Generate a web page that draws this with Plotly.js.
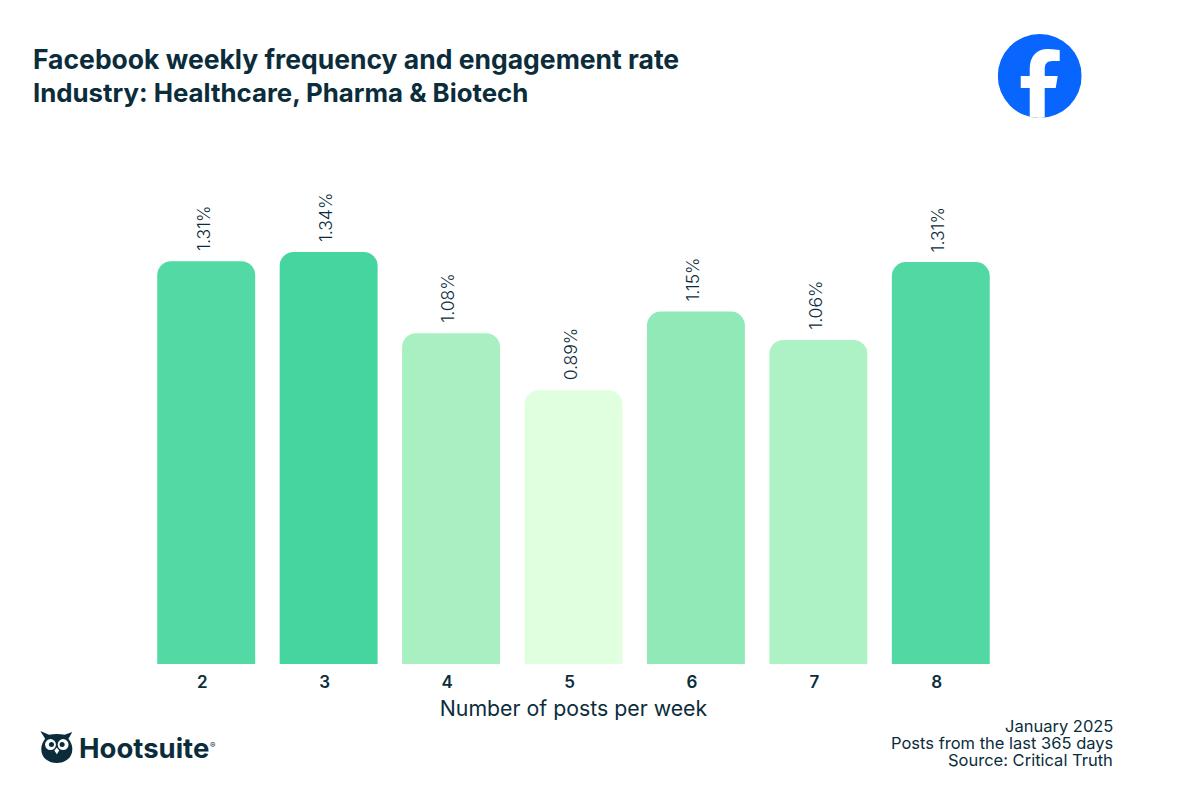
<!DOCTYPE html>
<html><head><meta charset="utf-8">
<script src="https://cdn.plot.ly/plotly-3.0.1.min.js"></script>
<style>html,body{margin:0;padding:0;background:#fff}#c{width:1200px;height:800px}</style></head>
<body><div id="c"></div>
<script>
const categories = ["2","3","4","5","6","7","8"];
const rates = [1.31,1.34,1.076,0.89,1.146,1.054,1.307];
const rateLabels = ["1.31%","1.34%","1.08%","0.89%","1.15%","1.06%","1.31%"];
const barColors = ["#53D9A3","#45D59E","#A8F0C1","#DFFFDF","#90E9B7","#ADF2C5","#52D9A3"];
const titleLines = ["Facebook weekly frequency and engagement rate","Industry: Healthcare, Pharma & Biotech"];
const titleSizes = [26.5,25.8];
const footerLines = ["January 2025","Posts from the last 365 days","Source: Critical Truth"];
const ink = "#0B2D3B";
const face = "Inter, 'Open Sans', sans-serif";
const W = 1200, H = 800;
const M = {l:144.75,r:197.75,t:172,b:136};
const PW = W-M.l-M.r, PH = H-M.t-M.b;
const px = v => (v-M.l)/PW, py = v => 1-(v-M.t)/PH;

const fbLogo = "data:image/svg+xml;utf8," + encodeURIComponent(
 '<svg xmlns="http://www.w3.org/2000/svg" viewBox="0 0 84 84"><defs><clipPath id="k"><circle cx="42" cy="42" r="42"/></clipPath></defs>'+
 '<circle cx="42" cy="42" r="42" fill="#0866FF"/>'+
 '<path clip-path="url(#k)" fill="#fff" d="M32 84V54H23V42H32V35C32 22 39 15 50 15C55 15 60 16 62 16V27H55C49 27 47 30 47 35V42H60L58 54H47V84Z"/></svg>');
const owlLogo = "data:image/svg+xml;utf8," + encodeURIComponent(
 '<svg xmlns="http://www.w3.org/2000/svg" viewBox="0 0 34 34">'+
 '<path fill="#0B2D3B" d="M0 1L9 5Q17 3 25 5L33 2L29 9Q33 14 33 20C33 29 25 34 17 34C9 34 1 29 1 20Q1 14 5 9Z"/>'+
 '<circle cx="10.5" cy="15" r="5.6" fill="#fff"/><circle cx="23.5" cy="15" r="5.6" fill="#fff"/>'+
 '<circle cx="11.5" cy="15" r="2.6" fill="#0B2D3B"/><circle cx="22.5" cy="15" r="2.6" fill="#0B2D3B"/>'+
 '<path fill="#fff" d="M14.5 21L17 18L19.5 21L17 25Z"/></svg>');

const annotations = [];
const paperNote = (text,x,y,xanchor,size) => annotations.push({text,xref:"paper",yref:"paper",x:px(x),y:py(y),xanchor,yanchor:"middle",showarrow:false,font:{family:face,size,color:ink}});
titleLines.forEach((t,i)=>paperNote("<b>"+t+"</b>",31,59+i*34,"left",titleSizes[i]));
footerLines.forEach((t,i)=>paperNote(t,1115,726+i*17,"right",16.5));
paperNote("<b>Hootsuite</b>",77,748,"left",27.5);
paperNote("®",208,745,"left",8);
rateLabels.forEach((label,i)=>annotations.push({text:label,xref:"x",yref:"y",x:i,y:rates[i],xanchor:"center",yanchor:"bottom",xshift:-3,yshift:8,textangle:-90,showarrow:false,font:{family:face,size:17.5,color:ink,weight:300}}));

Plotly.newPlot("c",[{
  type:"bar",x:categories,y:rates,
  marker:{color:barColors,line:{width:0}},hoverinfo:"x+y"
}],{
  width:W,height:H,paper_bgcolor:"#fff",plot_bgcolor:"#fff",showlegend:false,
  margin:M,
  bargap:0.2,barcornerradius:14,
  xaxis:{type:"category",range:[-0.5,6.5],showgrid:false,zeroline:false,showline:false,ticks:"outside",ticklen:3,tickcolor:"rgba(0,0,0,0)",ticklabelshift:-4,
    tickfont:{family:face,size:17,color:ink,weight:600},
    title:{text:"Number of posts per week",standoff:9,font:{family:face,size:21.3,color:ink}}},
  yaxis:{range:[0,1.6],visible:false,fixedrange:true},
  annotations,
  images:[
   {source:fbLogo,xref:"paper",yref:"paper",x:px(998),y:py(34),sizex:84/PW,sizey:84/PH,xanchor:"left",yanchor:"top",sizing:"stretch",layer:"above"},
   {source:owlLogo,xref:"paper",yref:"paper",x:px(40),y:py(730),sizex:33/PW,sizey:33/PH,xanchor:"left",yanchor:"top",sizing:"stretch",layer:"above"}
  ]
},{displayModeBar:false,responsive:false});
</script></body></html>
